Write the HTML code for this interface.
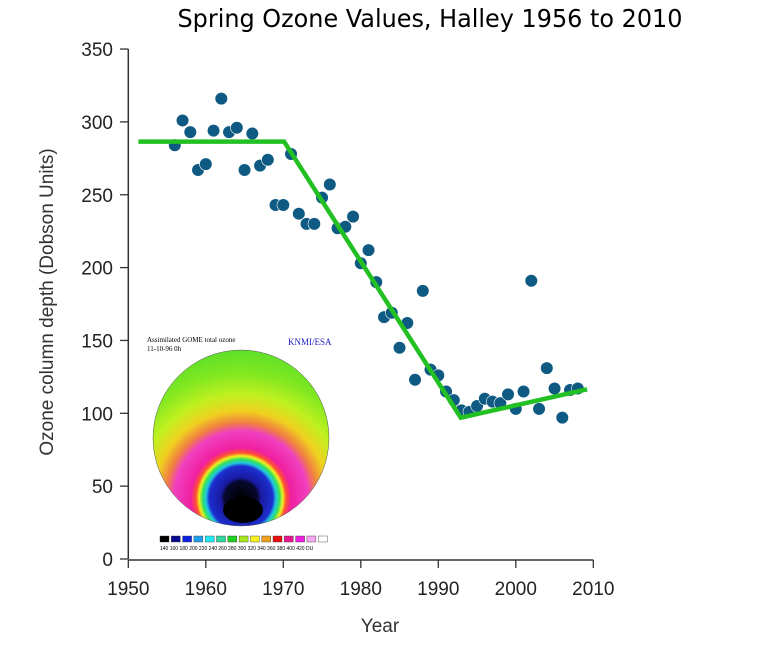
<!DOCTYPE html>
<html><head><meta charset="utf-8"><style>
html,body{margin:0;padding:0;background:#fff;}
svg{display:block;}
text{font-family:"Liberation Sans",sans-serif;}
</style></head><body>
<svg id="chart" width="771" height="651" viewBox="0 0 771 651" xmlns="http://www.w3.org/2000/svg">
<defs>
<radialGradient id="globeGrad" cx="0.5" cy="0.84" r="0.95">
<stop offset="0" stop-color="#000"/>
<stop offset="0.1" stop-color="#080830"/>
<stop offset="0.12" stop-color="#1a1aa0"/>
<stop offset="0.19" stop-color="#1c2fd0"/>
<stop offset="0.21" stop-color="#20c8e0"/>
<stop offset="0.23" stop-color="#30e060"/>
<stop offset="0.25" stop-color="#f0f020"/>
<stop offset="0.27" stop-color="#ff5030"/>
<stop offset="0.3" stop-color="#f020a0"/>
<stop offset="0.4" stop-color="#f040c0"/>
<stop offset="0.45" stop-color="#f08040"/>
<stop offset="0.52" stop-color="#f0d020"/>
<stop offset="0.62" stop-color="#c0f020"/>
<stop offset="0.75" stop-color="#80e820"/>
<stop offset="1" stop-color="#40d830"/>
</radialGradient>
</defs>
<text x="430" y="27" text-anchor="middle" font-size="25" textLength="505" lengthAdjust="spacingAndGlyphs" style="font-family:'Comic Sans MS','DejaVu Sans',sans-serif" fill="#000">Spring Ozone Values, Halley 1956 to 2010</text>
<g id="inset">
<text x="147" y="342" font-size="7" fill="#000" style="font-family:'Liberation Serif',serif">Assimilated GOME total ozone</text>
<text x="147" y="351" font-size="7" fill="#000" style="font-family:'Liberation Serif',serif">11-10-96  0h</text>
<text x="288" y="345" font-size="9" fill="#2020c0" style="font-family:'Liberation Serif',serif">KNMI/ESA</text>
<circle cx="241" cy="438" r="88" fill="url(#globeGrad)" stroke="#555" stroke-width="0.5"/>
<ellipse cx="243" cy="510" rx="20" ry="13" fill="#000"/>
<g id="colorbar"></g>
<text x="160" y="550" font-size="5" fill="#000">140 160 180 200 220 240 260 280 300 320 340 360 380 400 420 DU</text>
</g>
<g id="axes"></g>
<g id="plot"></g>
<text transform="translate(53,302) rotate(-90)" text-anchor="middle" font-size="19" fill="#333">Ozone column depth (Dobson Units)</text>
<text x="380" y="632" text-anchor="middle" font-size="19" fill="#333">Year</text>
</svg>
<script>
const years = [1956,1957,1958,1959,1960,1961,1962,1963,1964,1965,1966,1967,1968,1969,1970,1971,1972,1973,1974,1975,1976,1977,1978,1979,1980,1981,1982,1983,1984,1985,1986,1987,1988,1989,1990,1991,1992,1993,1994,1995,1996,1997,1998,1999,2000,2001,2002,2003,2004,2005,2006,2007,2008];
const ozone = [284,301,293,267,271,294,316,293,296,267,292,270,274,243,243,278,237,230,230,248,257,227,228,235,203,212,190,166,169,145,162,123,184,130,126,115,109,102,101,105,110,108,107,113,103,115,191,103,131,117,97,116,117];
const trendYears = [1951.3,1970.1,1992.9,2009.2];
const trendValues = [286.5,286.5,97,116.5];
const xTicks = [1950,1960,1970,1980,1990,2000,2010];
const yTicks = [0,50,100,150,200,250,300,350];
const cbColors = ["#000","#0a0a90","#0a20e0","#20a0e8","#20e8f0","#30d8a0","#20d020","#a8e820","#f8f020","#f0a020","#e81010","#e81890","#f020e0","#f8a8f0","#fff"];

const NS="http://www.w3.org/2000/svg";
const X = y => 128.3 + (y-1950)*7.75;
const Y = v => 559 - v*1.457;
function mk(tag, attrs, parent){const e=document.createElementNS(NS,tag);for(const k in attrs)e.setAttribute(k,attrs[k]);parent.appendChild(e);return e;}
const axes=document.getElementById('axes'), plot=document.getElementById('plot'), cb=document.getElementById('colorbar');
cbColors.forEach((c,i)=>{
  const r=mk('rect',{x:160+i*11.3,y:536,width:9,height:6,fill:c,stroke:'#333','stroke-width':0.4},cb);
  
  
});
let a=mk('line',{x1:128.3,y1:Y(350),x2:128.3,y2:Y(0),stroke:'#333','stroke-width':1.5},axes);


a=mk('line',{x1:X(1950),y1:560,x2:X(2010),y2:560,stroke:'#333','stroke-width':1.5},axes);


yTicks.forEach(v=>{
  mk('line',{x1:120,y1:Y(v),x2:128.3,y2:Y(v),stroke:'#333','stroke-width':1.3},axes);
  const t=mk('text',{x:113,y:Y(v)+7,'text-anchor':'end','font-size':19,fill:'#222'},axes);
  t.textContent=v;
  
  
});
xTicks.forEach(v=>{
  mk('line',{x1:X(v),y1:560,x2:X(v),y2:568,stroke:'#333','stroke-width':1.3},axes);
  const t=mk('text',{x:X(v),y:595,'text-anchor':'middle','font-size':19,fill:'#222'},axes);
  t.textContent=v;
  
  
});
years.forEach((yr,i)=>{
  const c=mk('circle',{cx:X(yr),cy:Y(ozone[i]),r:6.3,fill:'#0e5a82',stroke:'#fff','stroke-width':0.6},plot);
  
  
});
const pl=mk('polyline',{points:trendYears.map((y,i)=>X(y)+','+Y(trendValues[i])).join(' '),fill:'none',stroke:'#22c022','stroke-width':4.5,'stroke-linejoin':'miter'},plot);


</script>
</body></html>
